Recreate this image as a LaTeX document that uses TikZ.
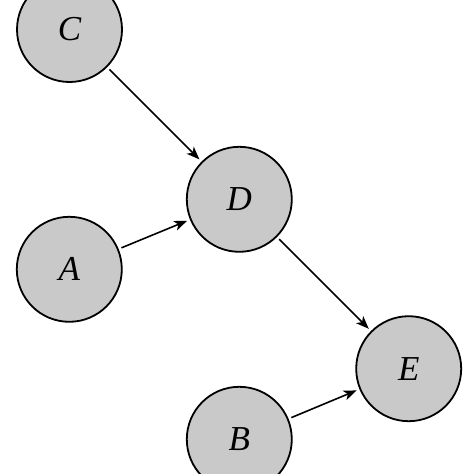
\documentclass[tikz,border=0pt]{standalone}
\usepackage{fontspec}
\setmainfont{Liberation Serif}
\usetikzlibrary{arrows.meta}
\definecolor{nodefill}{RGB}{201,201,201}
\begin{document}
\begin{tikzpicture}[x=1pt,y=-1pt,
  var/.style={circle,draw=black,line width=1.8pt,fill=nodefill,minimum size=105pt,inner sep=0pt,font=\fontsize{35}{38}\selectfont\itshape},
  edge/.style={line width=1.6pt,-{Stealth[length=13pt,width=10pt,inset=3.5pt]},shorten >=3pt,shorten <=3pt}]
\clip (0,0) rectangle (474,474);
\useasboundingbox (0,0) rectangle (474,474);
\fill[white] (0,0) rectangle (474,474);
\node[var] (C) at (69.5,29.5) {C};
\node[var] (D) at (239.3,199.3) {D};
\node[var] (A) at (69.3,269.3) {A};
\node[var] (E) at (408.7,368.7) {E};
\node[var] (B) at (239.3,439.3) {B};
\draw[edge] (C) -- (D);
\draw[edge] (A) -- (D);
\draw[edge] (D) -- (E);
\draw[edge] (B) -- (E);
\end{tikzpicture}
\end{document}
